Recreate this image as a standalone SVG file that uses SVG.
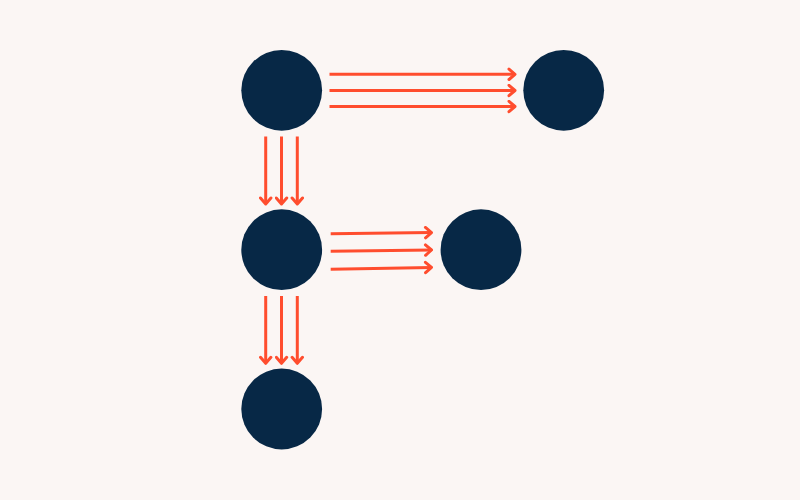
<svg xmlns="http://www.w3.org/2000/svg" width="800" height="500" viewBox="0 0 800 500">
<style>
.node{fill:#072846}
.edge{stroke:#FF4D2E;stroke-width:3;fill:none;stroke-linecap:butt}
</style>
<defs>
<marker id="ah" viewBox="0 0 10 14" refX="8.5" refY="7" markerWidth="10" markerHeight="14" markerUnits="userSpaceOnUse" orient="auto">
<path d="M2.5,1.8 L8.5,7 L2.5,12.2" fill="none" stroke="#FF4D2E" stroke-width="3" stroke-linecap="round" stroke-linejoin="round"/>
</marker>
</defs>
<rect width="800" height="500" fill="#FBF6F4"/>
<g id="connectors">
<line class="edge" x1="329.5" y1="74.3" x2="515" y2="74.3" marker-end="url(#ah)"/>
<line class="edge" x1="329.5" y1="90.5" x2="515" y2="90.5" marker-end="url(#ah)"/>
<line class="edge" x1="329.5" y1="106.5" x2="515" y2="106.5" marker-end="url(#ah)"/>
<line class="edge" x1="265.7" y1="136.5" x2="265.7" y2="204" marker-end="url(#ah)"/>
<line class="edge" x1="281.5" y1="136.5" x2="281.5" y2="204" marker-end="url(#ah)"/>
<line class="edge" x1="297.3" y1="136.5" x2="297.3" y2="204" marker-end="url(#ah)"/>
<line class="edge" x1="330.7" y1="233.8" x2="431.5" y2="232.6" marker-end="url(#ah)"/>
<line class="edge" x1="330.7" y1="251.3" x2="431.5" y2="250" marker-end="url(#ah)"/>
<line class="edge" x1="330.7" y1="269.2" x2="431.5" y2="267.4" marker-end="url(#ah)"/>
<line class="edge" x1="265.7" y1="296" x2="265.7" y2="363.3" marker-end="url(#ah)"/>
<line class="edge" x1="281.5" y1="296" x2="281.5" y2="363.3" marker-end="url(#ah)"/>
<line class="edge" x1="297.3" y1="296" x2="297.3" y2="363.3" marker-end="url(#ah)"/>
</g>
<g id="node-top-left"><circle class="node" cx="281.7" cy="90.3" r="40.4"/></g>
<g id="node-top-right"><circle class="node" cx="563.7" cy="90.3" r="40.4"/></g>
<g id="node-middle-left"><circle class="node" cx="281.7" cy="249.7" r="40.4"/></g>
<g id="node-middle-right"><circle class="node" cx="481" cy="249.7" r="40.4"/></g>
<g id="node-bottom-left"><circle class="node" cx="281.7" cy="409" r="40.4"/></g>
</svg>
